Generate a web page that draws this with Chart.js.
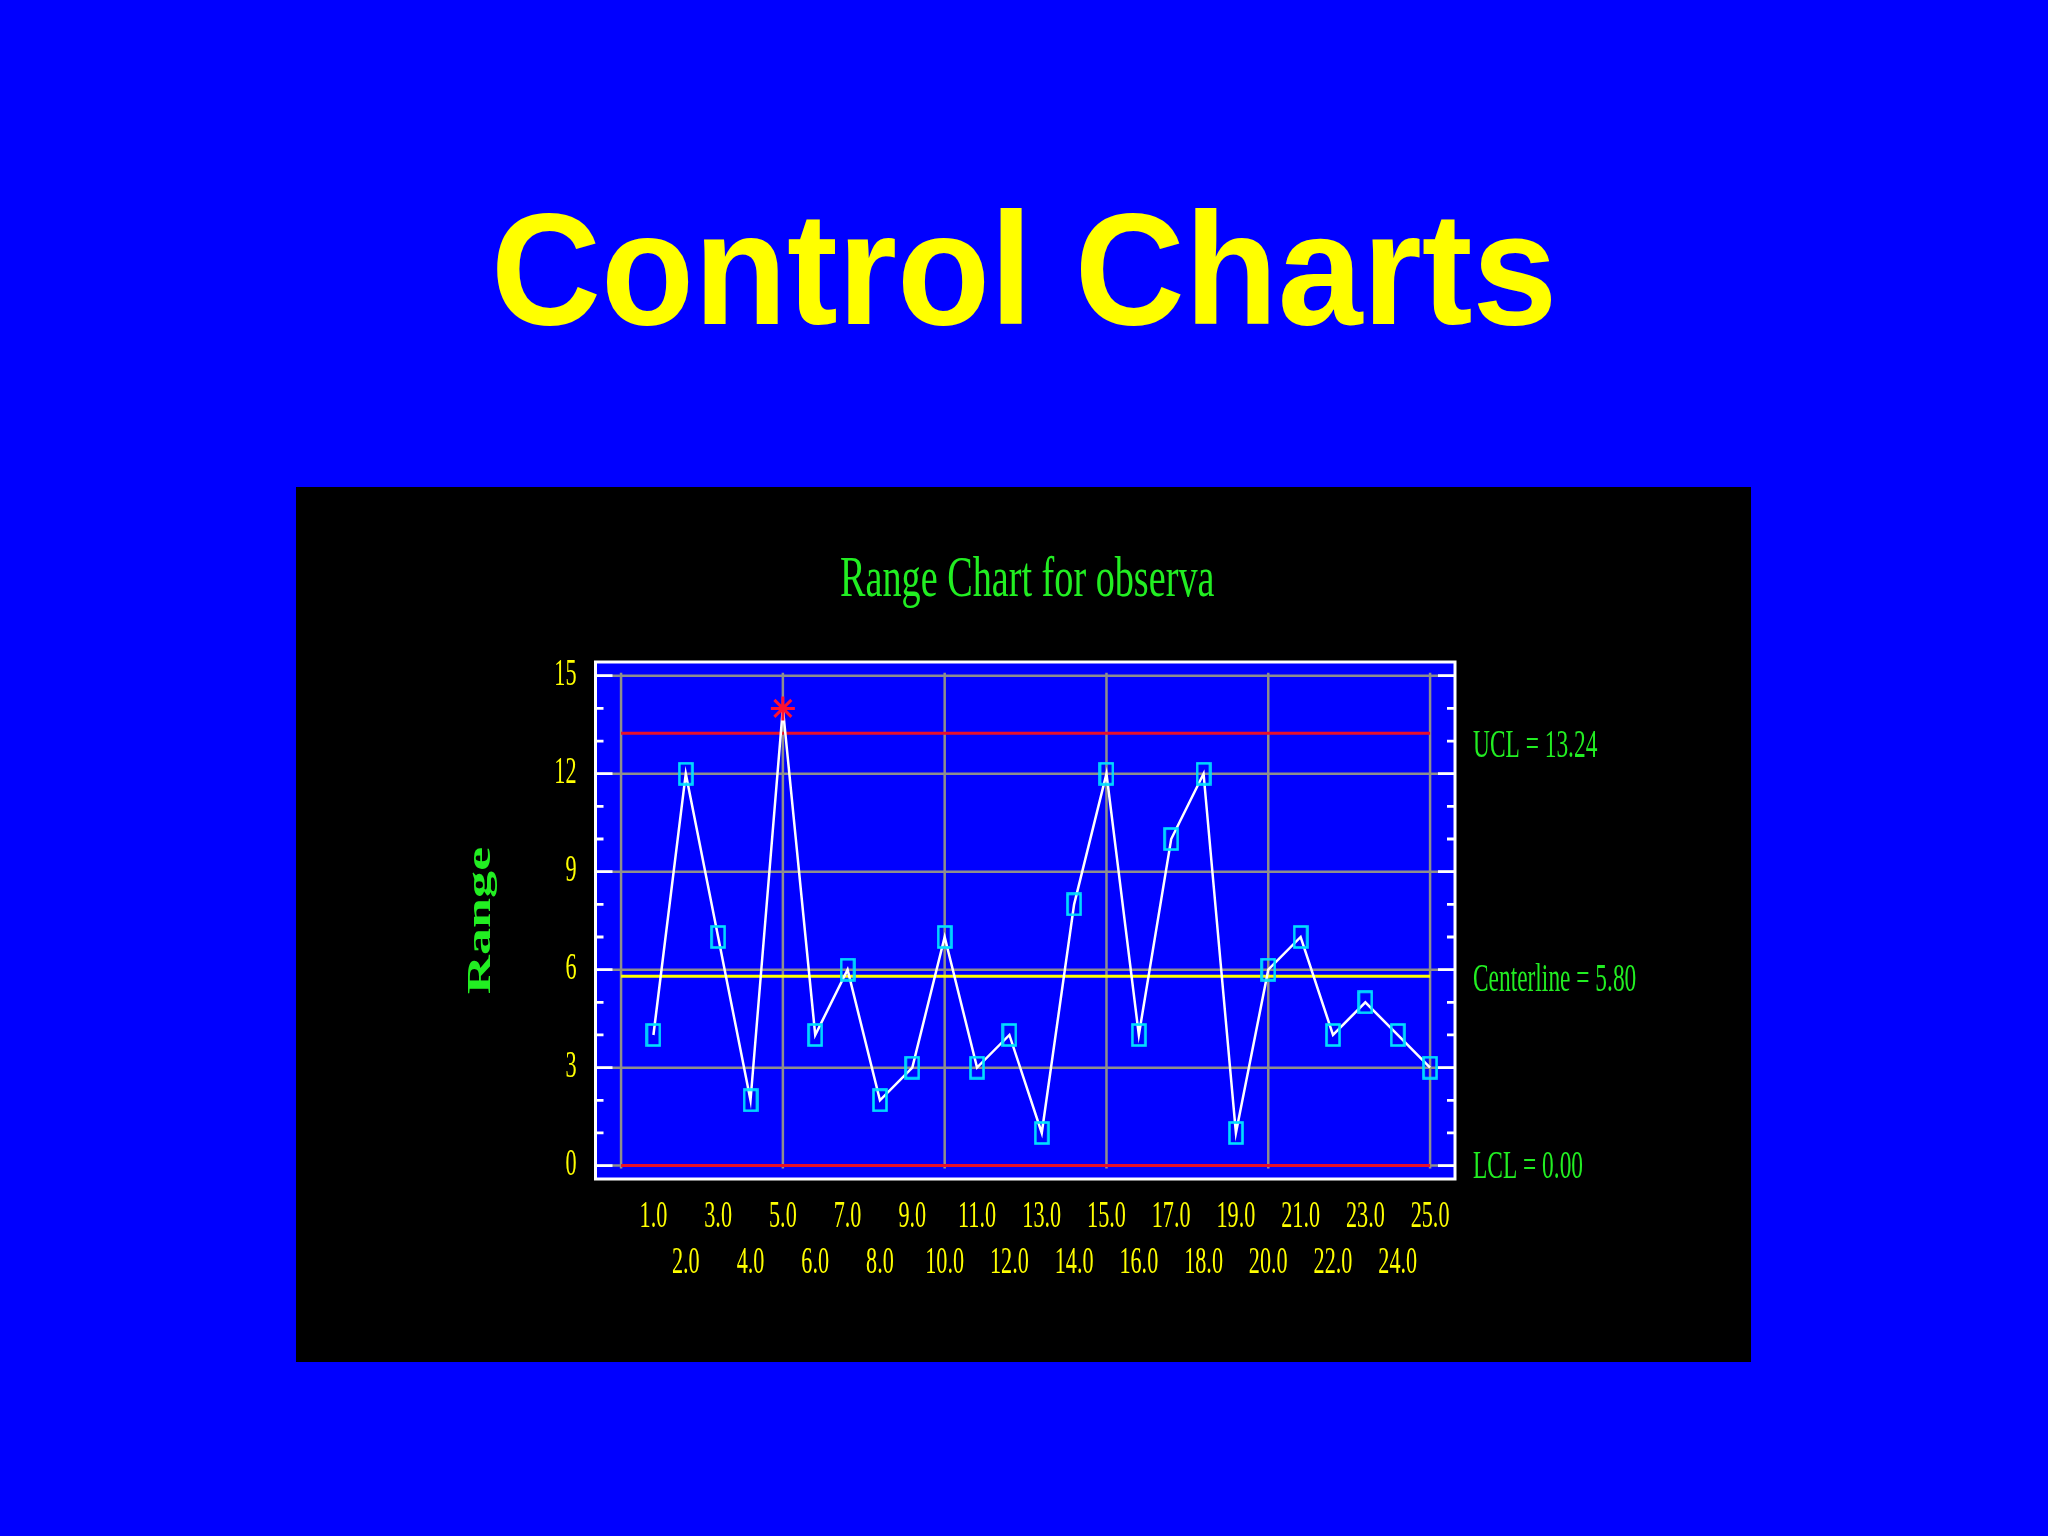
<!DOCTYPE html>
<html>
<head>
<meta charset="utf-8">
<title>Control Charts</title>
<script src="https://cdn.jsdelivr.net/npm/chart.js@4.4.1/dist/chart.umd.min.js"></script>
<style>
html, body { margin: 0; padding: 0; }
body { width: 2048px; height: 1536px; background: #0000ff; position: relative; overflow: hidden; }
#title { position: absolute; left: 0; top: 189px; width: 2048px; margin: 0; text-align: center;
  font: bold 160px/160px 'Liberation Sans', Arial, sans-serif; color: #ffff00;
  transform: scaleX(0.952); transform-origin: 1024px 0; }
#panel { position: absolute; left: 296px; top: 487px; width: 1455px; height: 875px; background: #000; }
#chart { display: block; }
</style>
</head>
<body>
<h1 id="title">Control Charts</h1>
<div id="panel"><canvas id="chart" width="1455" height="875"></canvas></div>
<script>
// ---- data ----
const categories = [1, 2, 3, 4, 5, 6, 7, 8, 9, 10, 11, 12, 13, 14, 15, 16, 17, 18, 19, 20, 21, 22, 23, 24, 25];
const rangeValues = [4, 12, 7, 2, 14, 4, 6, 2, 3, 7, 3, 4, 1, 8, 12, 4, 10, 12, 1, 6, 7, 4, 5, 4, 3];
const xTickLabels = ['1.0', '2.0', '3.0', '4.0', '5.0', '6.0', '7.0', '8.0', '9.0', '10.0', '11.0', '12.0', '13.0',
  '14.0', '15.0', '16.0', '17.0', '18.0', '19.0', '20.0', '21.0', '22.0', '23.0', '24.0', '25.0'];
const yTickValues = [0, 3, 6, 9, 12, 15];
const yMinorTickValues = [0, 1, 2, 3, 4, 5, 6, 7, 8, 9, 10, 11, 12, 13, 14, 15];
const xGridValues = [0, 5, 10, 15, 20, 25];
const ucl = 13.24;
const centerline = 5.80;
const lcl = 0.00;
const limitValues = [ucl, centerline, lcl];
const limitLabels = ['UCL = 13.24', 'Centerline = 5.80', 'LCL = 0.00'];
const chartTitle = 'Range Chart for observa';
const yAxisTitle = 'Range';

// ---- style ----
const SERIF = "'Liberation Serif', 'Times New Roman', serif";
const GREEN = '#22ee22';
const YELLOW = '#ffff00';
const RED = '#e8102a';
const GRID = '#8e8e8e';

// hollow tall cyan box marker
function makeBox() {
  const c = document.createElement('canvas');
  c.width = 16; c.height = 24;
  const g = c.getContext('2d');
  g.strokeStyle = '#00e0ff';
  g.lineWidth = 2.6;
  g.strokeRect(1.5, 1.5, 13, 21);
  return c;
}
const boxMarker = makeBox();

// condensed / stretched serif text like the original software output
const condenseText = {
  id: 'condenseText',
  beforeInit(chart) {
    const ctx = chart.ctx;
    const nativeFill = ctx.fillText;
    ctx.fillText = function (text, x, y) {
      const f = this.font;
      const m = /(\d+(?:\.\d+)?)px/.exec(f);
      const size = m ? parseFloat(m[1]) : 12;
      const sx = /bold|700/.test(f) ? 1.64 : (size > 50 ? 0.67 : 0.6);
      this.save();
      this.translate(x, y);
      this.scale(sx, 1);
      nativeFill.call(this, text, 0, 0);
      this.restore();
    };
  }
};

const plotFrame = {
  id: 'plotFrame',
  beforeDatasetsDraw(chart) {
    const { ctx, chartArea: a, scales: { x, y } } = chart;
    ctx.save();
    ctx.fillStyle = '#0000ff';
    ctx.fillRect(a.left, a.top, a.right - a.left, a.bottom - a.top);
    // grid
    ctx.strokeStyle = GRID;
    ctx.lineWidth = 2.5;
    ctx.beginPath();
    yTickValues.forEach(v => {
      const py = y.getPixelForValue(v);
      ctx.moveTo(a.left, py); ctx.lineTo(a.right, py);
    });
    const gTop = y.getPixelForValue(yTickValues[yTickValues.length - 1]) - 3;
    const gBot = y.getPixelForValue(yTickValues[0]) + 3;
    xGridValues.forEach(v => {
      const px = x.getPixelForValue(v);
      ctx.moveTo(px, gTop); ctx.lineTo(px, gBot);
    });
    ctx.stroke();
    // tick marks (inside, both sides)
    ctx.strokeStyle = '#ffffff';
    ctx.lineWidth = 2.8;
    ctx.beginPath();
    yMinorTickValues.forEach(v => {
      const py = y.getPixelForValue(v);
      const len = yTickValues.includes(v) ? 17 : 8;
      ctx.moveTo(a.left, py); ctx.lineTo(a.left + len, py);
      ctx.moveTo(a.right, py); ctx.lineTo(a.right - len, py);
    });
    ctx.stroke();
    // frame
    ctx.lineWidth = 3;
    ctx.strokeRect(a.left, a.top, a.right - a.left, a.bottom - a.top);
    ctx.restore();
  },
  afterDatasetsDraw(chart) {
    const { ctx, chartArea: a, scales: { y } } = chart;
    const nudge = [14, 5, 2];
    ctx.save();
    ctx.fillStyle = GREEN;
    ctx.font = '39px ' + SERIF;
    ctx.textAlign = 'left';
    ctx.textBaseline = 'middle';
    limitValues.forEach((v, i) => {
      ctx.fillText(limitLabels[i], a.right + 18, y.getPixelForValue(v) + nudge[i]);
    });
    // chart title, centred over the plot area
    ctx.font = '57px ' + SERIF;
    ctx.textAlign = 'center';
    ctx.textBaseline = 'alphabetic';
    ctx.fillText(chartTitle, (a.left + a.right) / 2 + 2, a.top - 66);
    ctx.restore();
  }
};

const seriesPoints = categories.map((c, i) => ({ x: c, y: rangeValues[i] }));
const xFirst = xGridValues[0];
const xLast = xGridValues[xGridValues.length - 1];
const limitLine = v => [{ x: xFirst, y: v }, { x: xLast, y: v }];

new Chart(document.getElementById('chart'), {
  type: 'line',
  data: {
    datasets: [
      {
        label: 'Range',
        data: seriesPoints,
        borderColor: '#ffffff',
        borderWidth: 2.5,
        tension: 0,
        pointStyle: c => (rangeValues[c.dataIndex] > ucl ? 'star' : boxMarker),
        pointRadius: c => (rangeValues[c.dataIndex] > ucl ? 12 : 8),
        pointBorderColor: c => (rangeValues[c.dataIndex] > ucl ? '#ff1030' : '#00e0ff'),
        pointBorderWidth: 3,
        order: 0
      },
      { label: 'UCL', data: limitLine(ucl), borderColor: RED, borderWidth: 3, pointRadius: 0, order: 1 },
      { label: 'Centerline', data: limitLine(centerline), borderColor: YELLOW, borderWidth: 3, pointRadius: 0, order: 1 },
      { label: 'LCL', data: limitLine(lcl), borderColor: RED, borderWidth: 3, pointRadius: 0, order: 1 }
    ]
  },
  options: {
    responsive: false,
    animation: false,
    events: [],
    layout: { padding: { left: 99.5, right: 296, top: 175, bottom: 63 } },
    plugins: {
      legend: { display: false },
      tooltip: { enabled: false },
      title: { display: false }
    },
    scales: {
      x: {
        type: 'linear',
        position: 'bottom',
        min: -0.79,
        max: 25.77,
        bounds: 'data',
        afterBuildTicks: s => { s.ticks = categories.map(v => ({ value: v })); },
        afterFit: s => { s.height = 120; },
        grid: { display: false, drawTicks: false },
        border: { display: false },
        ticks: {
          autoSkip: false,
          maxRotation: 0,
          minRotation: 0,
          padding: 15,
          color: YELLOW,
          font: { family: SERIF, size: 37, lineHeight: '46px' },
          callback: v => {
            const i = categories.indexOf(v);
            if (i < 0) return '';
            return i % 2 === 0 ? [xTickLabels[i], ''] : ['', xTickLabels[i]];
          }
        }
      },
      y: {
        type: 'linear',
        position: 'left',
        min: -0.41,
        max: 15.42,
        bounds: 'data',
        afterBuildTicks: s => { s.ticks = yTickValues.map(v => ({ value: v })); },
        afterFit: s => { s.width = 200; },
        grid: { display: false, drawTicks: false },
        border: { display: false },
        ticks: {
          padding: 19,
          color: YELLOW,
          font: { family: SERIF, size: 37 },
          callback: v => String(v)
        },
        title: {
          display: true,
          text: yAxisTitle,
          color: GREEN,
          font: { family: SERIF, size: 33, weight: 'bold', lineHeight: 1.2 },
          padding: { top: 65.7, bottom: 0 }
        }
      }
    }
  },
  plugins: [condenseText, plotFrame]
});
</script>
</body>
</html>
